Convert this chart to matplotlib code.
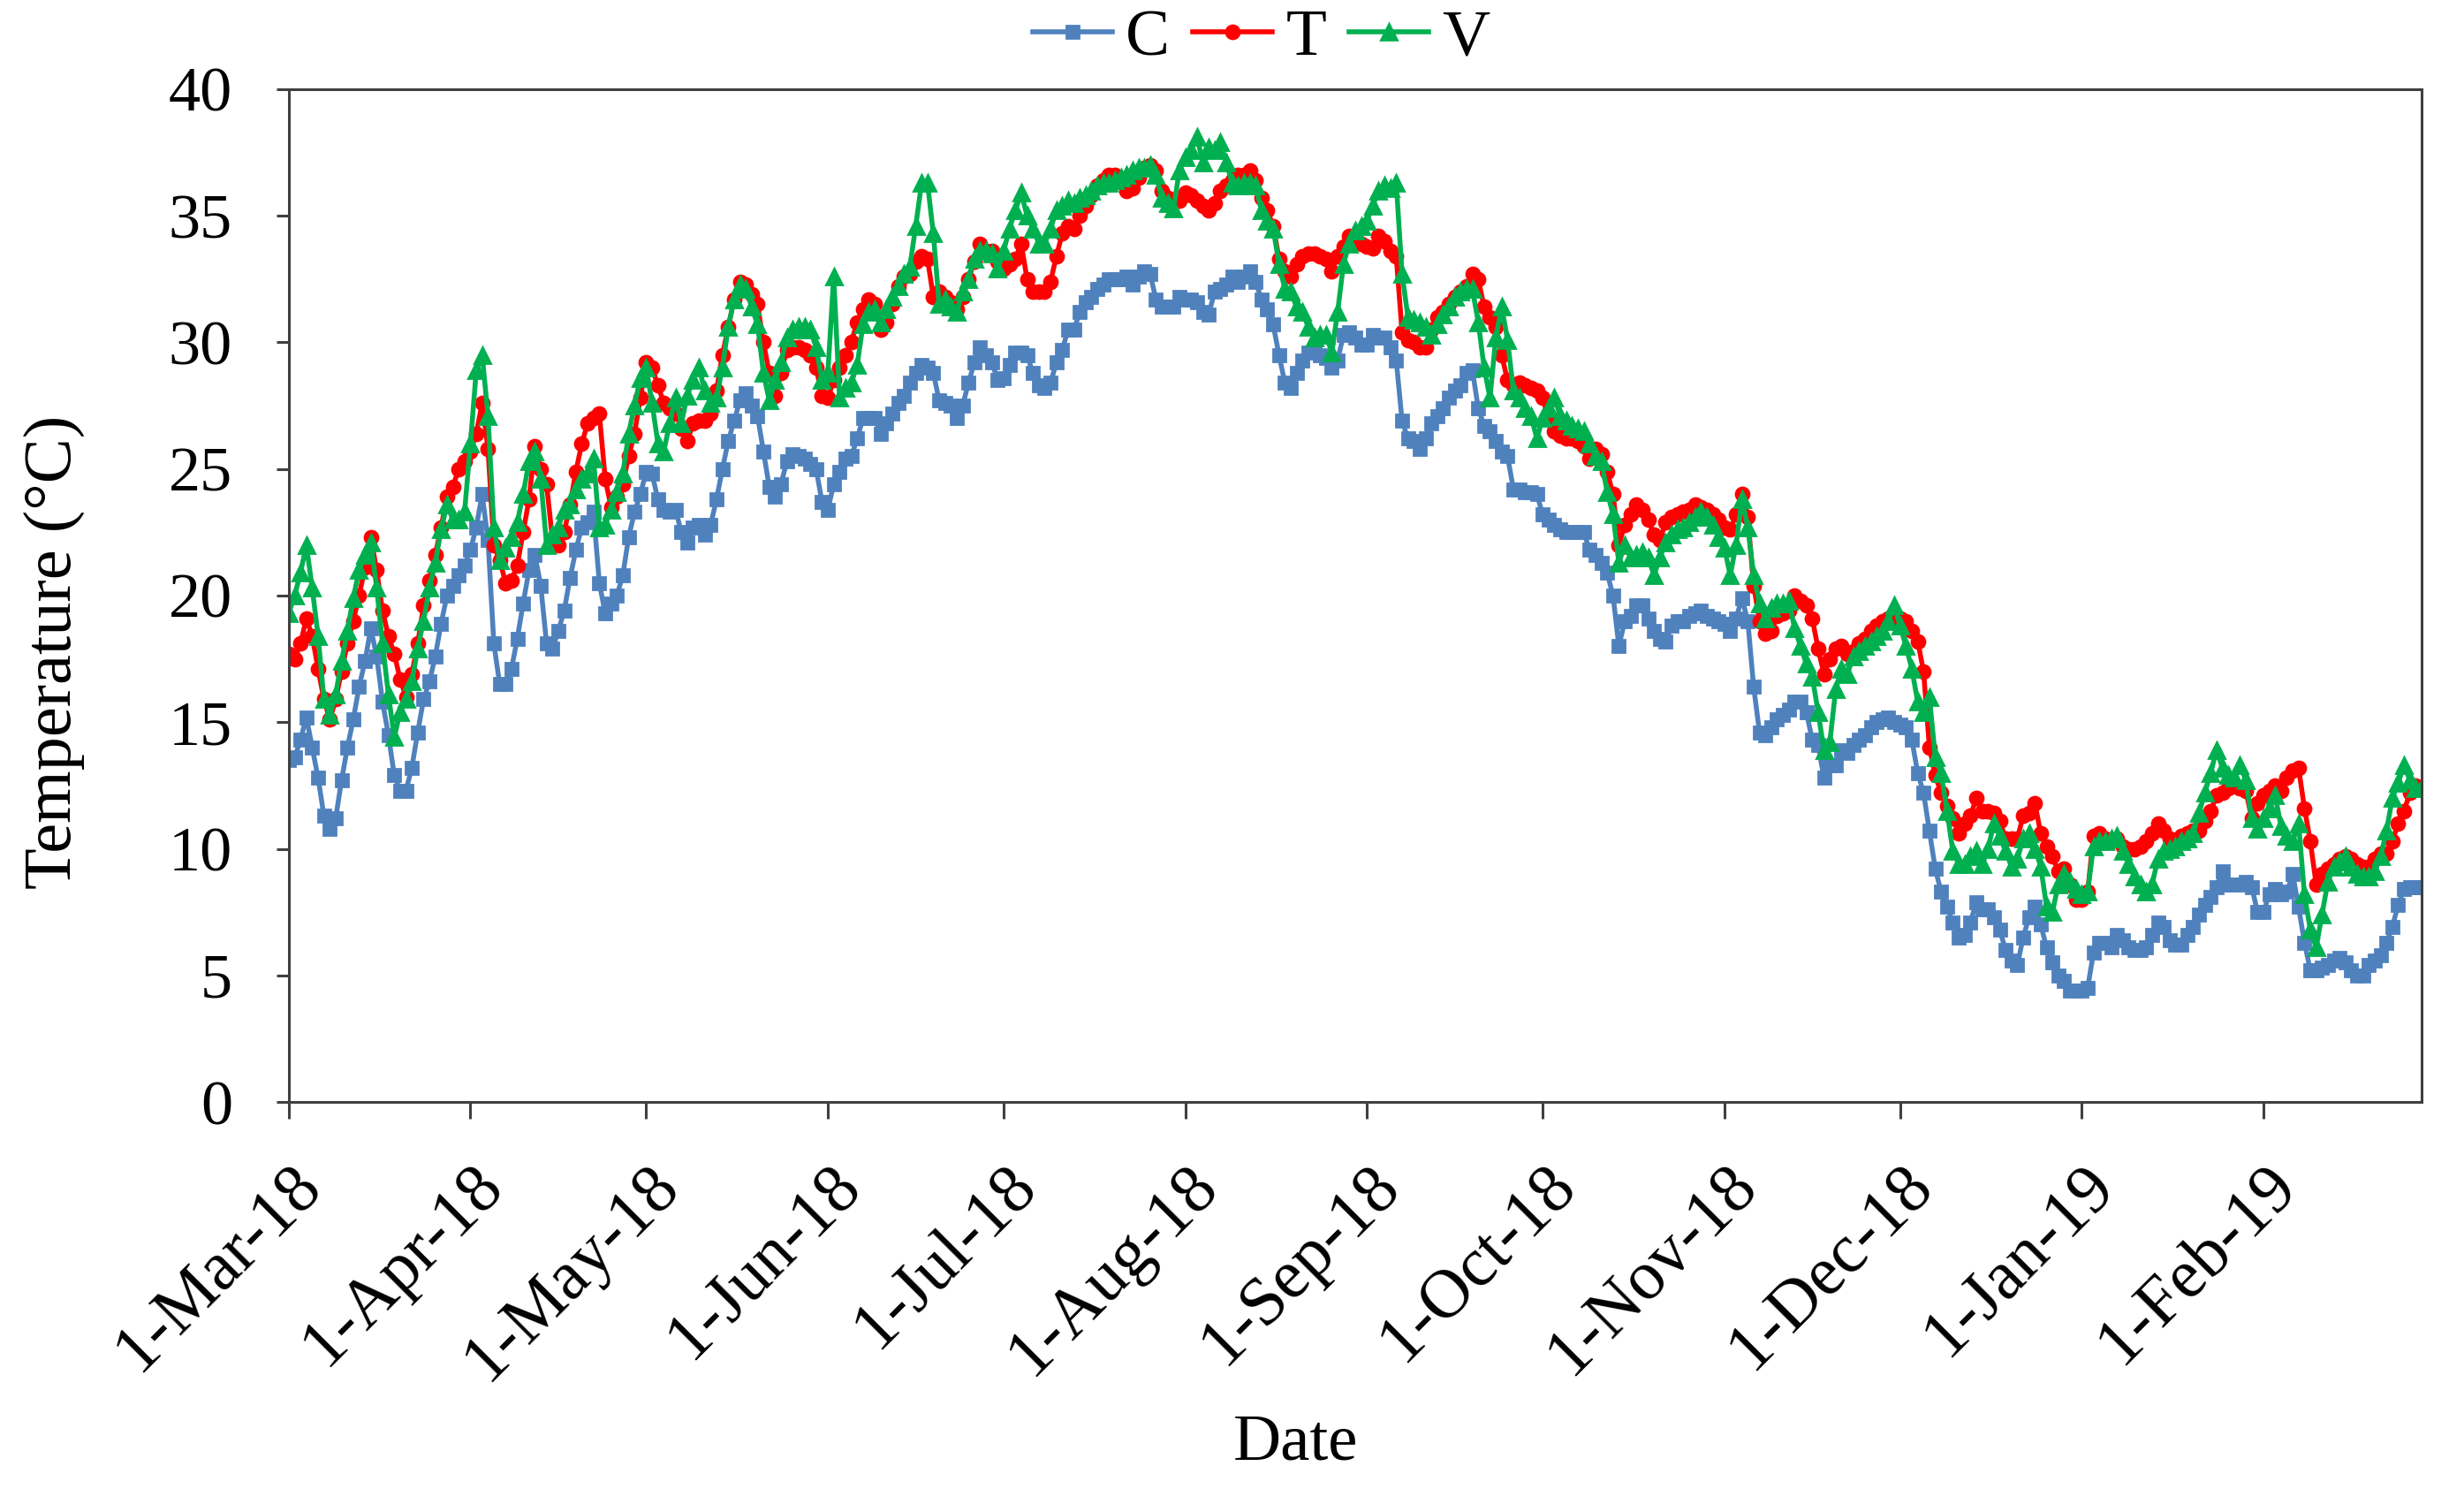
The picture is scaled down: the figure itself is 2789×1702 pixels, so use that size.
import matplotlib
matplotlib.use("Agg")
import matplotlib.pyplot as plt
import pandas as pd

plt.rcParams['font.family'] = ['Liberation Serif', 'DejaVu Serif']

# daily mean temperature (°C), 1-Mar-18 .. 28-Feb-19
c_mar = [13.5, 13.6, 14.3, 15.2, 14.0, 12.8, 11.3, 10.8, 11.2, 12.7, 14.0, 15.1, 16.4, 17.4, 18.7, 17.6,
         15.8, 14.5, 12.9, 12.3, 12.3, 13.2, 14.6, 15.9, 16.6, 17.6, 18.9, 20.0, 20.4, 20.8, 21.2]
c_apr = [21.8, 22.7, 24.0, 22.2, 18.1, 16.5, 16.5, 17.1, 18.3, 19.7, 21.0, 21.6, 20.4, 18.1, 17.9, 18.6,
         19.4, 20.7, 21.8, 22.7, 22.9, 23.3, 20.5, 19.3, 19.7, 20.0, 20.8, 22.3, 23.3, 24.0]
c_may = [24.9, 24.8, 23.8, 23.4, 23.3, 23.4, 22.5, 22.1, 22.7, 22.8, 22.4, 22.8, 23.8, 25.0, 26.1, 26.9,
         27.7, 28.0, 27.5, 27.1, 25.7, 24.3, 23.9, 24.4, 25.3, 25.6, 25.5, 25.4, 25.2, 25.0, 23.7]
c_jun = [23.4, 24.4, 24.9, 25.4, 25.5, 26.2, 27.0, 27.0, 27.0, 26.4, 26.8, 27.2, 27.6, 27.9, 28.4, 28.8,
         29.1, 29.0, 28.8, 27.7, 27.6, 27.5, 27.0, 27.5, 28.4, 29.2, 29.8, 29.5, 29.2, 28.5]
c_jul = [28.6, 29.1, 29.6, 29.6, 29.5, 28.8, 28.3, 28.2, 28.4, 29.2, 29.7, 30.5, 30.5, 31.2, 31.6, 31.8,
         32.1, 32.3, 32.5, 32.5, 32.5, 32.6, 32.3, 32.6, 32.8, 32.7, 31.7, 31.4, 31.4, 31.4, 31.8]
c_aug = [31.7, 31.7, 31.6, 31.2, 31.1, 32.0, 32.1, 32.3, 32.6, 32.4, 32.6, 32.8, 32.4, 31.7, 31.3, 30.7,
         29.5, 28.4, 28.2, 28.8, 29.3, 29.6, 29.7, 29.5, 29.4, 29.0, 29.3, 30.3, 30.4, 30.2, 29.9]
c_sep = [29.9, 30.3, 30.2, 30.2, 29.8, 29.3, 26.9, 26.2, 26.1, 25.8, 26.2, 26.8, 27.1, 27.4, 27.8, 28.1,
         28.3, 28.8, 28.9, 27.4, 26.7, 26.5, 26.1, 25.7, 25.5, 24.2, 24.2, 24.1, 24.1, 24.0]
c_oct = [23.2, 23.0, 22.8, 22.6, 22.5, 22.5, 22.5, 22.5, 21.8, 21.6, 21.3, 20.9, 20.0, 18.0, 19.0, 19.2,
         19.6, 19.6, 19.1, 18.6, 18.3, 18.2, 18.8, 19.0, 19.0, 19.2, 19.3, 19.4, 19.2, 19.1, 19.0]
c_nov = [18.9, 18.6, 19.1, 19.9, 19.0, 16.4, 14.6, 14.5, 14.8, 15.1, 15.3, 15.5, 15.8, 15.8, 15.4, 14.3,
         14.1, 12.8, 13.3, 13.3, 13.9, 13.8, 14.1, 14.3, 14.5, 14.8, 15.0, 15.1, 15.2, 15.0]
c_dec = [14.9, 14.8, 14.3, 13.0, 12.2, 10.7, 9.2, 8.3, 7.7, 7.1, 6.5, 6.6, 7.1, 7.9, 7.6, 7.6,
         7.3, 6.8, 6.0, 5.6, 5.4, 6.5, 7.3, 7.7, 7.0, 6.1, 5.5, 5.0, 4.8, 4.4, 4.4]
c_jan = [4.4, 4.5, 5.9, 6.3, 6.3, 6.1, 6.6, 6.4, 6.1, 6.0, 6.0, 6.1, 6.6, 7.1, 6.9, 6.4,
         6.2, 6.2, 6.6, 6.9, 7.4, 7.8, 8.1, 8.5, 9.1, 8.6, 8.6, 8.6, 8.7, 8.5, 7.5]
c_feb = [7.5, 8.2, 8.4, 8.2, 8.3, 9.0, 7.7, 6.3, 5.2, 5.2, 5.3, 5.4, 5.6, 5.7, 5.5, 5.2,
         5.0, 5.0, 5.4, 5.6, 5.8, 6.3, 6.9, 7.8, 8.4, 8.5, 8.5, 8.5]

t_mar = [17.7, 17.5, 18.1, 19.1, 18.4, 17.1, 15.9, 15.1, 15.9, 17.0, 18.1, 19.0, 20.0, 21.1, 22.3, 21.0,
         19.4, 18.4, 17.7, 16.7, 16.0, 16.9, 18.1, 19.6, 20.6, 21.6, 22.7, 23.9, 24.3, 25.0, 25.3]
t_apr = [25.7, 26.4, 27.6, 25.8, 22.0, 21.4, 20.5, 20.6, 21.2, 22.5, 23.8, 25.9, 25.0, 24.4, 22.2, 22.0,
         22.5, 23.6, 24.9, 26.0, 26.8, 27.0, 27.2, 24.6, 23.5, 23.9, 24.4, 25.5, 26.4, 27.8]
t_may = [29.2, 29.0, 28.3, 27.6, 27.4, 27.2, 26.6, 26.1, 26.8, 26.9, 26.9, 27.2, 28.1, 29.5, 30.6, 31.7,
         32.4, 32.3, 31.9, 31.5, 30.0, 28.8, 27.9, 28.8, 29.7, 29.8, 29.8, 29.7, 29.5, 29.0, 27.9]
t_jun = [27.8, 28.5, 29.0, 29.5, 30.0, 30.8, 31.3, 31.7, 31.5, 30.5, 30.8, 31.5, 32.2, 32.6, 32.7, 33.2,
         33.4, 33.3, 31.8, 32.0, 31.8, 31.6, 31.3, 31.8, 32.5, 33.2, 33.9, 33.6, 33.6, 33.2]
t_jul = [32.9, 33.1, 33.3, 33.9, 32.5, 32.0, 32.0, 32.0, 32.4, 33.4, 34.3, 34.6, 34.5, 35.0, 35.4, 35.8,
         36.2, 36.4, 36.6, 36.6, 36.4, 36.0, 36.1, 36.5, 36.9, 37.0, 36.8, 36.0, 35.7, 35.6, 35.6]
t_aug = [35.9, 35.8, 35.6, 35.4, 35.2, 35.5, 36.0, 36.2, 36.4, 36.6, 36.6, 36.8, 36.4, 35.7, 35.2, 34.6,
         33.3, 32.8, 32.6, 33.1, 33.4, 33.5, 33.5, 33.4, 33.3, 32.8, 33.4, 33.8, 34.2, 34.1, 33.9]
t_sep = [33.8, 33.7, 34.2, 34.0, 33.6, 33.4, 30.4, 30.1, 30.0, 29.8, 29.8, 30.5, 31.0, 31.2, 31.5, 31.8,
         32.0, 32.2, 32.7, 32.5, 31.4, 31.0, 30.6, 29.5, 28.5, 28.3, 28.4, 28.3, 28.2, 28.1]
t_oct = [27.8, 27.0, 26.5, 26.3, 26.2, 26.2, 26.1, 25.9, 25.4, 25.8, 25.6, 24.9, 24.0, 22.0, 22.8, 23.2,
         23.6, 23.4, 23.0, 22.4, 22.2, 22.9, 23.1, 23.2, 23.3, 23.4, 23.6, 23.5, 23.4, 23.2, 23.0]
t_nov = [22.7, 22.6, 23.2, 24.0, 23.1, 20.4, 19.0, 18.5, 18.6, 19.2, 19.3, 19.4, 20.0, 19.8, 19.6, 19.1,
         17.9, 16.9, 17.5, 17.9, 18.0, 17.7, 17.8, 18.1, 18.3, 18.6, 18.8, 19.0, 19.1, 19.0]
t_dec = [19.1, 19.0, 18.6, 18.2, 17.0, 14.0, 12.9, 12.2, 11.7, 11.2, 10.6, 11.0, 11.3, 12.0, 11.5, 11.5,
         11.4, 11.1, 10.4, 10.4, 10.4, 11.3, 11.4, 11.8, 10.6, 10.1, 9.7, 9.1, 9.2, 8.6, 8.0]
t_jan = [8.0, 8.3, 10.5, 10.6, 10.4, 10.3, 10.4, 10.1, 10.0, 10.0, 10.1, 10.3, 10.6, 11.0, 10.7, 10.4,
         10.3, 10.5, 10.6, 10.7, 10.7, 11.1, 11.5, 12.1, 12.2, 12.4, 12.5, 12.4, 12.3, 11.2, 11.8]
t_feb = [12.1, 12.3, 12.5, 12.3, 12.8, 13.1, 13.2, 11.6, 10.3, 8.6, 9.0, 9.2, 9.4, 9.6, 9.7, 9.6,
         9.4, 9.3, 9.3, 9.6, 9.8, 9.8, 10.3, 11.0, 11.5, 12.2, 12.5, 12.4]

v_mar = [19.3, 20.0, 20.9, 22.0, 20.3, 18.4, 15.9, 15.3, 16.1, 17.4, 18.6, 19.9, 21.0, 21.6, 22.1, 20.3,
         18.1, 16.1, 14.4, 15.4, 15.9, 16.6, 17.9, 19.0, 20.3, 21.3, 22.6, 23.6, 23.0, 23.0, 23.3]
v_apr = [26.0, 28.9, 29.5, 27.1, 22.7, 21.4, 21.9, 22.3, 22.9, 24.0, 25.3, 25.7, 24.6, 22.0, 22.4, 22.7,
         23.4, 23.6, 24.2, 24.6, 24.8, 25.4, 22.7, 22.8, 23.4, 24.1, 24.8, 26.4, 27.5, 28.6]
v_may = [29.0, 27.6, 26.0, 25.7, 26.8, 27.8, 26.8, 27.9, 28.5, 29.0, 28.1, 27.6, 27.8, 29.0, 30.6, 31.7,
         32.3, 32.1, 31.4, 30.7, 28.8, 27.7, 28.5, 29.2, 30.2, 30.5, 30.6, 30.6, 30.5, 29.8, 28.5]
v_jun = [28.8, 32.6, 27.8, 28.2, 28.4, 29.1, 30.7, 31.2, 31.3, 30.8, 31.3, 31.8, 32.2, 32.7, 33.0, 34.6,
         36.3, 36.3, 34.3, 31.5, 31.7, 31.4, 31.2, 32.0, 32.5, 33.3, 33.6, 33.6, 33.5, 32.9]
v_jul = [33.6, 34.5, 35.2, 35.9, 35.0, 34.5, 33.9, 33.9, 34.5, 35.2, 35.4, 35.6, 35.5, 35.7, 35.8, 36.0,
         36.2, 36.3, 36.3, 36.4, 36.5, 36.6, 36.8, 36.9, 36.9, 37.0, 36.6, 35.7, 35.5, 35.3, 36.8]
v_aug = [37.3, 37.6, 38.1, 37.1, 37.7, 37.6, 37.9, 37.1, 36.3, 36.2, 36.3, 36.3, 36.2, 35.2, 34.8, 34.5,
         33.1, 32.1, 32.0, 31.4, 31.2, 30.6, 30.2, 30.3, 30.3, 29.6, 31.2, 33.1, 33.9, 34.4, 34.6]
v_sep = [34.8, 35.4, 36.0, 36.2, 36.1, 36.3, 32.7, 31.0, 30.9, 30.8, 30.6, 30.3, 30.7, 31.1, 31.4, 31.8,
         32.0, 32.1, 32.1, 30.8, 29.0, 27.8, 30.2, 31.4, 30.1, 28.1, 27.8, 27.4, 27.1, 26.2]
v_oct = [27.0, 27.4, 27.8, 27.1, 26.9, 26.7, 26.6, 26.5, 26.0, 25.5, 25.3, 24.1, 23.2, 21.3, 22.0, 21.5,
         21.6, 21.7, 21.5, 20.8, 21.5, 22.1, 22.4, 22.6, 22.7, 22.9, 23.1, 23.3, 23.1, 22.8, 22.3]
v_nov = [21.9, 20.8, 22.0, 23.8, 22.7, 20.8, 19.7, 19.1, 19.5, 19.7, 19.7, 19.8, 18.7, 18.0, 17.3, 16.8,
         15.4, 13.9, 14.2, 16.3, 17.1, 16.9, 17.6, 17.8, 18.0, 18.2, 18.4, 18.6, 19.0, 19.6]
v_dec = [18.8, 18.0, 17.1, 15.8, 15.4, 16.0, 13.6, 13.0, 11.5, 9.9, 9.4, 9.4, 9.7, 9.9, 9.4, 10.0,
         11.0, 10.5, 9.9, 9.3, 9.6, 10.4, 10.6, 10.0, 9.3, 7.7, 7.5, 8.6, 9.0, 8.7, 8.4]
v_jan = [8.2, 8.3, 10.1, 10.3, 10.3, 10.4, 10.5, 9.9, 9.4, 8.9, 8.6, 8.3, 8.6, 9.6, 9.9, 10.0,
         10.1, 10.3, 10.4, 10.6, 11.4, 12.2, 13.0, 13.9, 13.2, 12.9, 12.8, 13.3, 12.7, 11.2, 10.8]
v_feb = [11.2, 11.6, 12.1, 10.9, 10.5, 10.3, 11.0, 8.2, 6.8, 6.1, 7.4, 8.7, 9.3, 9.5, 9.7, 9.3,
         9.0, 8.9, 8.9, 9.1, 9.7, 10.7, 12.0, 12.6, 13.3, 12.7, 12.4, 12.4]

c_temp = c_mar + c_apr + c_may + c_jun + c_jul + c_aug + c_sep + c_oct + c_nov + c_dec + c_jan + c_feb
t_temp = t_mar + t_apr + t_may + t_jun + t_jul + t_aug + t_sep + t_oct + t_nov + t_dec + t_jan + t_feb
v_temp = v_mar + v_apr + v_may + v_jun + v_jul + v_aug + v_sep + v_oct + v_nov + v_dec + v_jan + v_feb

dates = pd.date_range("2018-03-01", periods=len(c_temp), freq="D")
month_starts = pd.date_range("2018-03-01", "2019-02-01", freq="MS")
month_labels = [f"{d.day}-{d.strftime('%b-%y')}" for d in month_starts]

fig = plt.figure(figsize=(13.945, 8.51), dpi=200)
ax = fig.add_axes([0.1172, 0.2673, 0.8656, 0.6734])

ax.plot(dates, c_temp, color="#4F81BD", marker="s", markersize=5.0, linewidth=2.0, label="C")
ax.plot(dates, t_temp, color="#FF0000", marker="o", markersize=5.4, linewidth=2.0, label="T")
ax.plot(dates, v_temp, color="#00B050", marker="^", markersize=6.6, linewidth=2.0, label="V")

ax.set_xlim(dates[0], dates[-1])
ax.set_ylim(0, 40)
ax.set_yticks(range(0, 41, 5))
ax.set_xticks(month_starts)
ax.set_xticklabels(month_labels, rotation=45, ha="right", va="top", rotation_mode="anchor")

for side in ["left", "right", "top", "bottom"]:
    ax.spines[side].set_color("#404040")
    ax.spines[side].set_linewidth(1.1)
ax.tick_params(axis="x", direction="out", length=7, width=1.1, color="#404040", labelsize=28, pad=14)
ax.tick_params(axis="y", direction="out", length=5, width=1.1, color="#404040", labelsize=26, pad=18)

ax.set_xlabel("Date", fontsize=27)
ax.xaxis.set_label_coords(0.472, -0.337)
ax.xaxis.label.set_va("center")
ax.set_ylabel("Temperature (°C)", fontsize=27.5)
ax.yaxis.set_label_coords(-0.110, 0.444)
ax.yaxis.label.set_va("center")

fig.legend(loc="upper center", bbox_to_anchor=(0.512, 1.012), ncol=3, frameon=False, fontsize=27,
           handlelength=1.2, handletextpad=0.2, columnspacing=0.35, borderaxespad=0.0)

fig.savefig("out.png", dpi=200)
